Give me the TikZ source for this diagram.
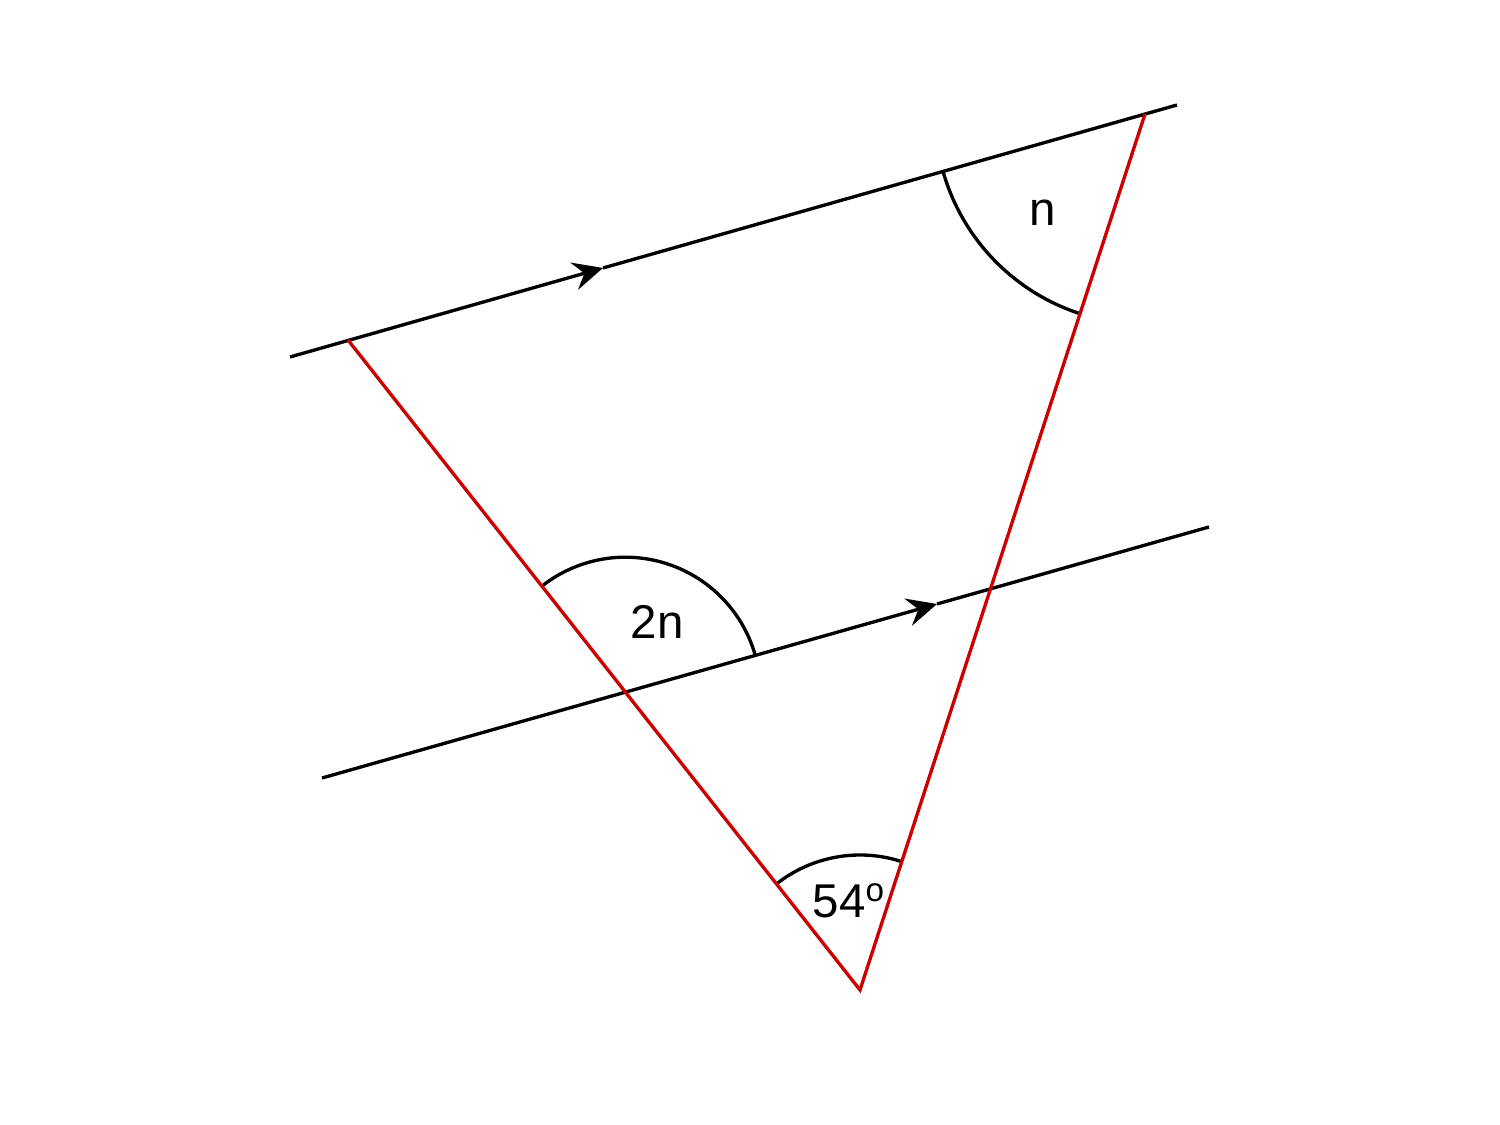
\documentclass[tikz,border=0pt]{standalone}
\usepackage{fontspec}
\setmainfont{Liberation Sans}
\usetikzlibrary{arrows.meta}
\definecolor{redline}{HTML}{CC0000}
\begin{document}
\begin{tikzpicture}[x=0.02cm,y=0.02cm,
  blk/.style={line width=1.9pt,black},
  redl/.style={line width=1.9pt,redline},
  arcl/.style={line width=1.9pt,black},
  arrowtip/.style={-{Stealth[length=17pt,width=16pt,inset=6pt]}},
  lbl/.style={font=\fontsize{27}{32}\selectfont}]
\useasboundingbox (0,0) rectangle (1500,1125);
% parallel lines
\coordinate (T1) at (290,768);
\coordinate (A1) at (603,857);
\coordinate (T2) at (1177,1020);
\coordinate (B1) at (322,347);
\coordinate (A2) at (937,521);
\coordinate (B2) at (1209,598);
% triangle
\coordinate (P) at (348,785);
\coordinate (V) at (860,135);
\coordinate (Q) at (1145,1011);
\coordinate (X) at (625.4,432.8);
\draw[blk,arrowtip] (T1) -- (A1);
\draw[blk] (A1) -- (T2);
\draw[blk,arrowtip] (B1) -- (A2);
\draw[blk] (A2) -- (B2);
% angle arcs
\draw[arcl] (V) ++(72:135) arc[start angle=72,end angle=128.2,radius=135];
\draw[arcl] (X) ++(15.8:135) arc[start angle=15.8,end angle=128.2,radius=135];
\draw[arcl] (Q) ++(195.85:210) arc[start angle=195.85,end angle=252,radius=210];
% red lines
\draw[redl,line join=miter] (P) -- (V) -- (Q);
% labels
\node[lbl] (ln) at (1043,912) {n};
\node[lbl] (l2n) at (657,503) {2n};
\node[lbl] (l54) at (849,224) {54\textsuperscript{o}};
\end{tikzpicture}
\end{document}
